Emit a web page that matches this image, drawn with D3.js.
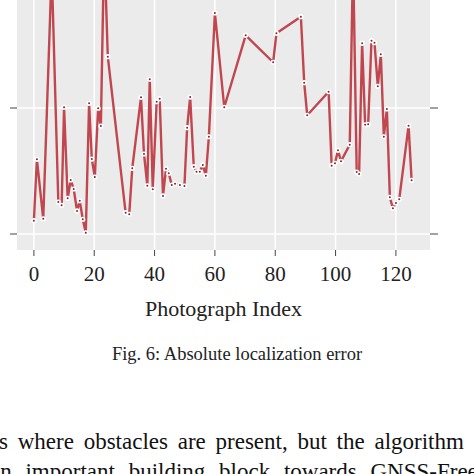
<!DOCTYPE html>
<html><head><meta charset="utf-8">
<script src="https://cdn.jsdelivr.net/npm/d3@7"></script>
<style>body{margin:0;background:#fff}svg{display:block}</style>
</head><body><svg id="c" width="474" height="474"></svg>
<script>
const photoIndex=[0,1,3.1,5.9,8.1,9.2,10,11.2,12.2,13.2,14.3,15.2,16.2,17.2,18.3,19.2,20.2,21.3,22.2,23.3,24.5,30.4,31.6,32.6,35.5,36.5,37.6,38.4,39.4,40.7,41.7,42.8,43.8,44.7,45.7,46.8,48.4,49.9,50.8,51.8,53,53.9,55,56,57,58,60,63.1,70.2,79.3,80.4,88.5,89.6,90.6,97.7,98.7,99.8,100.8,101.8,104.7,105.8,107,107.8,108.8,109.8,110.8,111.9,112.9,114,115,116,117,118,119,120,121.1,124.2,125.2];
const errorValues=[0.106,0.593,0.121,2.1,0.254,0.228,1.006,0.283,0.429,0.357,0.183,0.264,0.117,0.010,1.037,0.595,0.452,0.998,0.857,2.3,1.407,0.169,0.156,0.521,1.085,0.635,0.383,1.228,0.355,1.050,1.074,0.302,0.518,0.482,0.389,0.399,0.389,0.381,0.844,1.087,0.534,0.494,0.494,0.548,0.463,0.772,1.754,1.006,1.577,1.363,1.593,1.725,1.201,0.942,1.129,0.542,0.561,0.664,0.577,0.709,2.2,0.492,0.476,1.513,0.867,0.871,1.534,1.518,1.172,1.426,0.772,0.992,0.291,0.204,0.246,0.275,0.860,0.426];
const xTicks=[0,20,40,60,80,100,120];
const yTicks=[0,1];
const svg=d3.select("#c");
const L=17,R=430,T=0,B=250;
const x=d3.scaleLinear().domain([-5.6,131.3]).range([L,R]);
const y=d3.scaleLinear().domain([0,1]).range([234,108]);
svg.append("rect").attr("x",L).attr("y",T).attr("width",R-L).attr("height",B-T).attr("fill","#ebebeb");
const g=svg.append("g");
xTicks.forEach(t=>g.append("line").attr("x1",x(t)).attr("x2",x(t)).attr("y1",T).attr("y2",B).attr("stroke","#fff").attr("stroke-width",1.5));
yTicks.forEach(t=>g.append("line").attr("x1",L).attr("x2",R).attr("y1",y(t)).attr("y2",y(t)).attr("stroke","#fff").attr("stroke-width",1.5));
xTicks.forEach(t=>{
 svg.append("line").attr("x1",x(t)).attr("x2",x(t)).attr("y1",B).attr("y2",B+6).attr("stroke","#444");
 svg.append("text").attr("x",x(t)).attr("y",B+31).attr("text-anchor","middle").attr("font-family","Liberation Serif").attr("font-size",21).attr("fill","#222").text(t);
});
yTicks.forEach(t=>{
 svg.append("line").attr("x1",L-7).attr("x2",L).attr("y1",y(t)).attr("y2",y(t)).attr("stroke","#444");
 svg.append("line").attr("x1",R).attr("x2",R+8).attr("y1",y(t)).attr("y2",y(t)).attr("stroke","#444");
});
svg.append("defs").append("clipPath").attr("id","cp").append("rect").attr("x",L).attr("y",T).attr("width",R-L).attr("height",B-T);
const data=photoIndex.map((d,i)=>[d,errorValues[i]]);
const pg=svg.append("g").attr("clip-path","url(#cp)");
pg.append("path").datum(data).attr("d",d3.line().x(d=>x(d[0])).y(d=>y(d[1]))).attr("fill","none").attr("stroke","#c0474f").attr("stroke-width",2.4).attr("stroke-linejoin","round");
pg.selectAll("circle.o").data(data).enter().append("circle").attr("cx",d=>x(d[0])).attr("cy",d=>y(d[1])).attr("r",2.6).attr("fill","#fff");
pg.selectAll("circle.i").data(data).enter().append("circle").attr("cx",d=>x(d[0])).attr("cy",d=>y(d[1])).attr("r",1).attr("fill","#7a2a30");
svg.append("text").attr("x",(L+R)/2).attr("y",316).attr("text-anchor","middle").attr("font-family","Liberation Serif").attr("font-size",22).attr("fill","#222").text("Photograph Index");
svg.append("text").attr("x",237).attr("y",360).attr("text-anchor","middle").attr("font-family","Liberation Serif").attr("font-size",18.5).attr("fill","#222").text("Fig. 6: Absolute localization error");
svg.append("text").attr("x",-1).attr("y",449).attr("font-family","Liberation Serif").attr("font-size",23).attr("fill","#111").attr("word-spacing",4).text("s where obstacles are present, but the algorithm");
svg.append("text").attr("x",-10).attr("y",479).attr("font-family","Liberation Serif").attr("font-size",23).attr("fill","#111").attr("word-spacing",8).text("an important building block towards GNSS-Free");
</script></body></html>
